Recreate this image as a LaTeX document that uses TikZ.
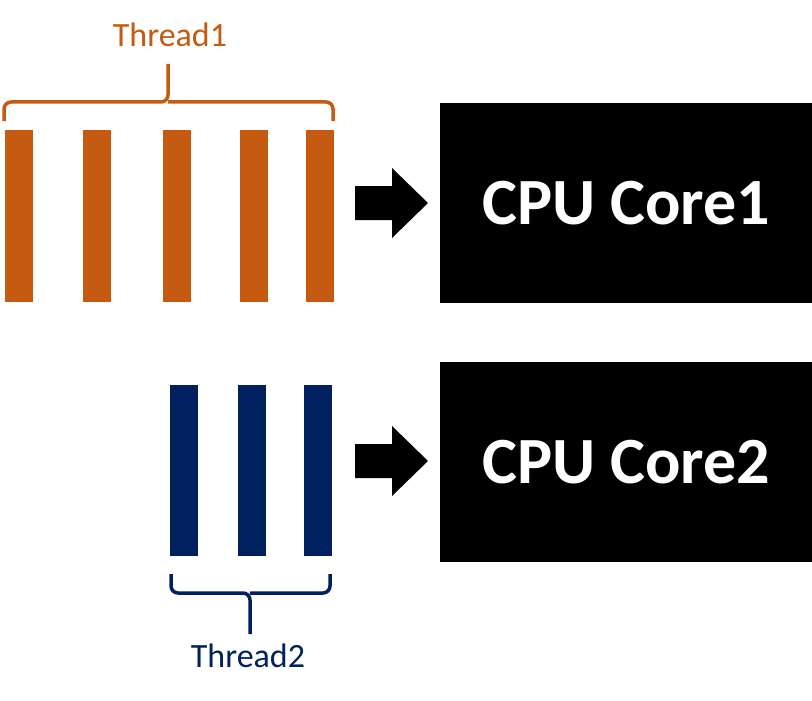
\documentclass[tikz,border=0pt]{standalone}
\usepackage{fontspec}
\setmainfont{Carlito}
\definecolor{orng}{HTML}{C55A11}
\definecolor{nvy}{HTML}{002060}
\begin{document}
\begin{tikzpicture}[x=1pt,y=-1pt,
  obar/.style={fill=orng,draw=none},
  bbar/.style={fill=nvy,draw=none},
  core/.style={fill=black,draw=none,minimum width=372pt,minimum height=200pt,anchor=north west,text=white,font=\bfseries\fontsize{66}{66}\selectfont},
  brc/.style={line width=3.5pt,rounded corners=7pt},
  lbl/.style={font=\fontsize{34}{34}\selectfont}]
\useasboundingbox (0,0) rectangle (812,701);
\foreach \x in {5,83,163,240,306} \fill[obar] (\x,130) rectangle ++(28,172);
\foreach \x in {170,238,304} \fill[bbar] (\x,385) rectangle ++(28,171);
\draw[brc,orng] (4,121) -- (4,102) -- (168,102) -- (168,64);
\draw[brc,orng] (168,102) -- (333,102) -- (333,121);
\node[lbl,text=orng] (t1) at (170,35) {Thread1};
\draw[brc,nvy] (171,574) -- (171,593) -- (250,593) -- (250,634);
\draw[brc,nvy] (250,593) -- (330,593) -- (330,574);
\node[lbl,text=nvy] (t2) at (248,656) {Thread2};
\node[core] (c1) at (440,103) {CPU Core1};
\node[core] (c2) at (440,362) {CPU Core2};
\foreach \y in {203,461} \fill (355,\y-17) -- (392,\y-17) -- (392,\y-35) -- (428,\y) -- (392,\y+35) -- (392,\y+17) -- (355,\y+17) -- cycle;
\end{tikzpicture}
\end{document}
